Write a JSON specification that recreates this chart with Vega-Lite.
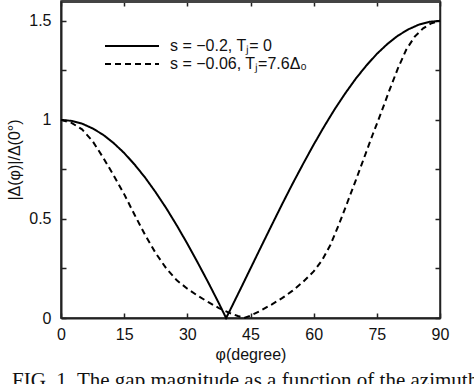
{
  "$schema": "https://vega.github.io/schema/vega-lite/v6.json",
  "width": 379,
  "height": 317,
  "autosize": "none",
  "padding": {"left": 61, "top": 1, "right": 34, "bottom": 66},
  "background": "white",
  "config": {
    "view": {"stroke": "#222", "strokeWidth": 1.5},
    "font": "Liberation Sans"
  },
  "title": {
    "text": "FIG. 1. The gap magnitude as a function of the azimuthal angle",
    "orient": "bottom",
    "anchor": "start",
    "frame": "group",
    "font": "Liberation Serif",
    "fontSize": 21,
    "fontWeight": "normal",
    "color": "#111",
    "dx": -49,
    "offset": 8
  },
  "data": {
    "values": [
      {"phi": 0, "v": 1.0, "s": "a"},
      {"phi": 2.5, "v": 0.995, "s": "a"},
      {"phi": 5, "v": 0.981, "s": "a"},
      {"phi": 7.5, "v": 0.957, "s": "a"},
      {"phi": 10, "v": 0.925, "s": "a"},
      {"phi": 12.5, "v": 0.883, "s": "a"},
      {"phi": 15, "v": 0.833, "s": "a"},
      {"phi": 17.5, "v": 0.774, "s": "a"},
      {"phi": 20, "v": 0.708, "s": "a"},
      {"phi": 22.5, "v": 0.634, "s": "a"},
      {"phi": 25, "v": 0.554, "s": "a"},
      {"phi": 27.5, "v": 0.467, "s": "a"},
      {"phi": 30, "v": 0.375, "s": "a"},
      {"phi": 32.5, "v": 0.278, "s": "a"},
      {"phi": 35, "v": 0.178, "s": "a"},
      {"phi": 37.5, "v": 0.074, "s": "a"},
      {"phi": 39.2, "v": 0.0, "s": "a"},
      {"phi": 40, "v": 0.033, "s": "a"},
      {"phi": 42.5, "v": 0.141, "s": "a"},
      {"phi": 45, "v": 0.25, "s": "a"},
      {"phi": 47.5, "v": 0.359, "s": "a"},
      {"phi": 50, "v": 0.467, "s": "a"},
      {"phi": 52.5, "v": 0.574, "s": "a"},
      {"phi": 55, "v": 0.678, "s": "a"},
      {"phi": 57.5, "v": 0.778, "s": "a"},
      {"phi": 60, "v": 0.875, "s": "a"},
      {"phi": 62.5, "v": 0.967, "s": "a"},
      {"phi": 65, "v": 1.054, "s": "a"},
      {"phi": 67.5, "v": 1.134, "s": "a"},
      {"phi": 70, "v": 1.208, "s": "a"},
      {"phi": 72.5, "v": 1.274, "s": "a"},
      {"phi": 75, "v": 1.333, "s": "a"},
      {"phi": 77.5, "v": 1.383, "s": "a"},
      {"phi": 80, "v": 1.425, "s": "a"},
      {"phi": 82.5, "v": 1.457, "s": "a"},
      {"phi": 85, "v": 1.481, "s": "a"},
      {"phi": 87.5, "v": 1.495, "s": "a"},
      {"phi": 90, "v": 1.5, "s": "a"},
      {"phi": 0, "v": 1.0, "s": "b"},
      {"phi": 2.5, "v": 0.985, "s": "b"},
      {"phi": 5, "v": 0.952, "s": "b"},
      {"phi": 7.5, "v": 0.893, "s": "b"},
      {"phi": 10, "v": 0.81, "s": "b"},
      {"phi": 12.5, "v": 0.72, "s": "b"},
      {"phi": 15, "v": 0.625, "s": "b"},
      {"phi": 17.5, "v": 0.52, "s": "b"},
      {"phi": 20, "v": 0.418, "s": "b"},
      {"phi": 22.5, "v": 0.327, "s": "b"},
      {"phi": 25, "v": 0.25, "s": "b"},
      {"phi": 27.5, "v": 0.19, "s": "b"},
      {"phi": 30, "v": 0.148, "s": "b"},
      {"phi": 32.5, "v": 0.112, "s": "b"},
      {"phi": 35, "v": 0.08, "s": "b"},
      {"phi": 37.5, "v": 0.05, "s": "b"},
      {"phi": 40, "v": 0.026, "s": "b"},
      {"phi": 42, "v": 0.01, "s": "b"},
      {"phi": 43.5, "v": 0.0, "s": "b"},
      {"phi": 45, "v": 0.012, "s": "b"},
      {"phi": 47.5, "v": 0.038, "s": "b"},
      {"phi": 50, "v": 0.068, "s": "b"},
      {"phi": 52.5, "v": 0.1, "s": "b"},
      {"phi": 55, "v": 0.138, "s": "b"},
      {"phi": 57.5, "v": 0.183, "s": "b"},
      {"phi": 60, "v": 0.235, "s": "b"},
      {"phi": 62, "v": 0.292, "s": "b"},
      {"phi": 64, "v": 0.37, "s": "b"},
      {"phi": 66, "v": 0.472, "s": "b"},
      {"phi": 68, "v": 0.583, "s": "b"},
      {"phi": 70, "v": 0.695, "s": "b"},
      {"phi": 72, "v": 0.81, "s": "b"},
      {"phi": 74, "v": 0.925, "s": "b"},
      {"phi": 76, "v": 1.035, "s": "b"},
      {"phi": 78, "v": 1.15, "s": "b"},
      {"phi": 80, "v": 1.26, "s": "b"},
      {"phi": 82, "v": 1.355, "s": "b"},
      {"phi": 84, "v": 1.42, "s": "b"},
      {"phi": 86, "v": 1.462, "s": "b"},
      {"phi": 88, "v": 1.488, "s": "b"},
      {"phi": 90, "v": 1.5, "s": "b"}
    ]
  },
  "layer": [
    {
      "mark": {"type": "line", "strokeWidth": 2, "color": "black"},
      "encoding": {
        "x": {
          "field": "phi", "type": "quantitative",
          "scale": {"domain": [0, 90], "nice": false, "zero": false},
          "axis": {
            "values": [0, 15, 30, 45, 60, 75, 90],
            "tickSize": -5, "tickWidth": 1.5, "tickColor": "#222",
            "domainColor": "#222", "domainWidth": 2,
            "labelPadding": 13, "labelFontSize": 16, "labelColor": "#111",
            "labelFont": "Liberation Sans", "labelFlush": false,
            "grid": false,
            "title": "φ(degree)", "titleFont": "Liberation Sans",
            "titleFontSize": 16, "titleFontWeight": "normal", "titleColor": "#111",
            "titlePadding": 4
          }
        },
        "y": {
          "field": "v", "type": "quantitative",
          "scale": {"domain": [0, 1.6], "nice": false},
          "axis": {
            "values": [0, 0.25, 0.5, 0.75, 1, 1.25, 1.5],
            "labelExpr": "datum.value % 0.5 == 0 ? format(datum.value, '~g') : ''",
            "tickSize": -5, "tickWidth": 1.5, "tickColor": "#222",
            "domainColor": "#222", "domainWidth": 2,
            "labelPadding": 15, "labelFontSize": 16, "labelColor": "#111",
            "labelFont": "Liberation Sans", "labelFlush": false,
            "grid": false,
            "title": "|Δ(φ)|/Δ(0°)", "titleFont": "Liberation Sans",
            "titleFontSize": 16, "titleFontWeight": "normal", "titleColor": "#111",
            "titlePadding": 6
          }
        },
        "strokeDash": {
          "field": "s", "type": "nominal",
          "scale": {"domain": ["a", "b"], "range": [[1, 0], [6, 4]]},
          "legend": {
            "orient": "none", "legendX": 61, "legendY": 35,
            "title": null,
            "labelExpr": "datum.value == 'a' ? 's = −0.2, Tⱼ= 0' : 's = −0.06, Tⱼ=7.6Δ₀'",
            "symbolType": "M-3,0H3", "symbolSize": 324,
            "symbolStrokeWidth": 2, "symbolStrokeColor": "black",
            "labelFontSize": 16, "labelFont": "Liberation Sans", "labelColor": "#111",
            "labelOffset": 28, "rowPadding": 0
          }
        }
      }
    },
    {
      "mark": {"type": "line", "opacity": 0},
      "encoding": {
        "x": {
          "field": "phi", "type": "quantitative",
          "axis": {
            "orient": "top", "values": [0, 15, 30, 45, 60, 75, 90],
            "labels": false, "title": null, "grid": false,
            "tickSize": -5, "tickWidth": 1.5, "tickColor": "#222",
            "domainColor": "#444", "domainWidth": 3
          }
        },
        "y": {
          "field": "v", "type": "quantitative",
          "axis": {
            "orient": "right", "values": [0, 0.25, 0.5, 0.75, 1, 1.25, 1.5],
            "labels": false, "title": null, "grid": false,
            "tickSize": -5, "tickWidth": 1.5, "tickColor": "#222",
            "domainColor": "#222", "domainWidth": 1.5
          }
        }
      }
    }
  ],
  "resolve": {"axis": {"x": "independent", "y": "independent"}}
}
